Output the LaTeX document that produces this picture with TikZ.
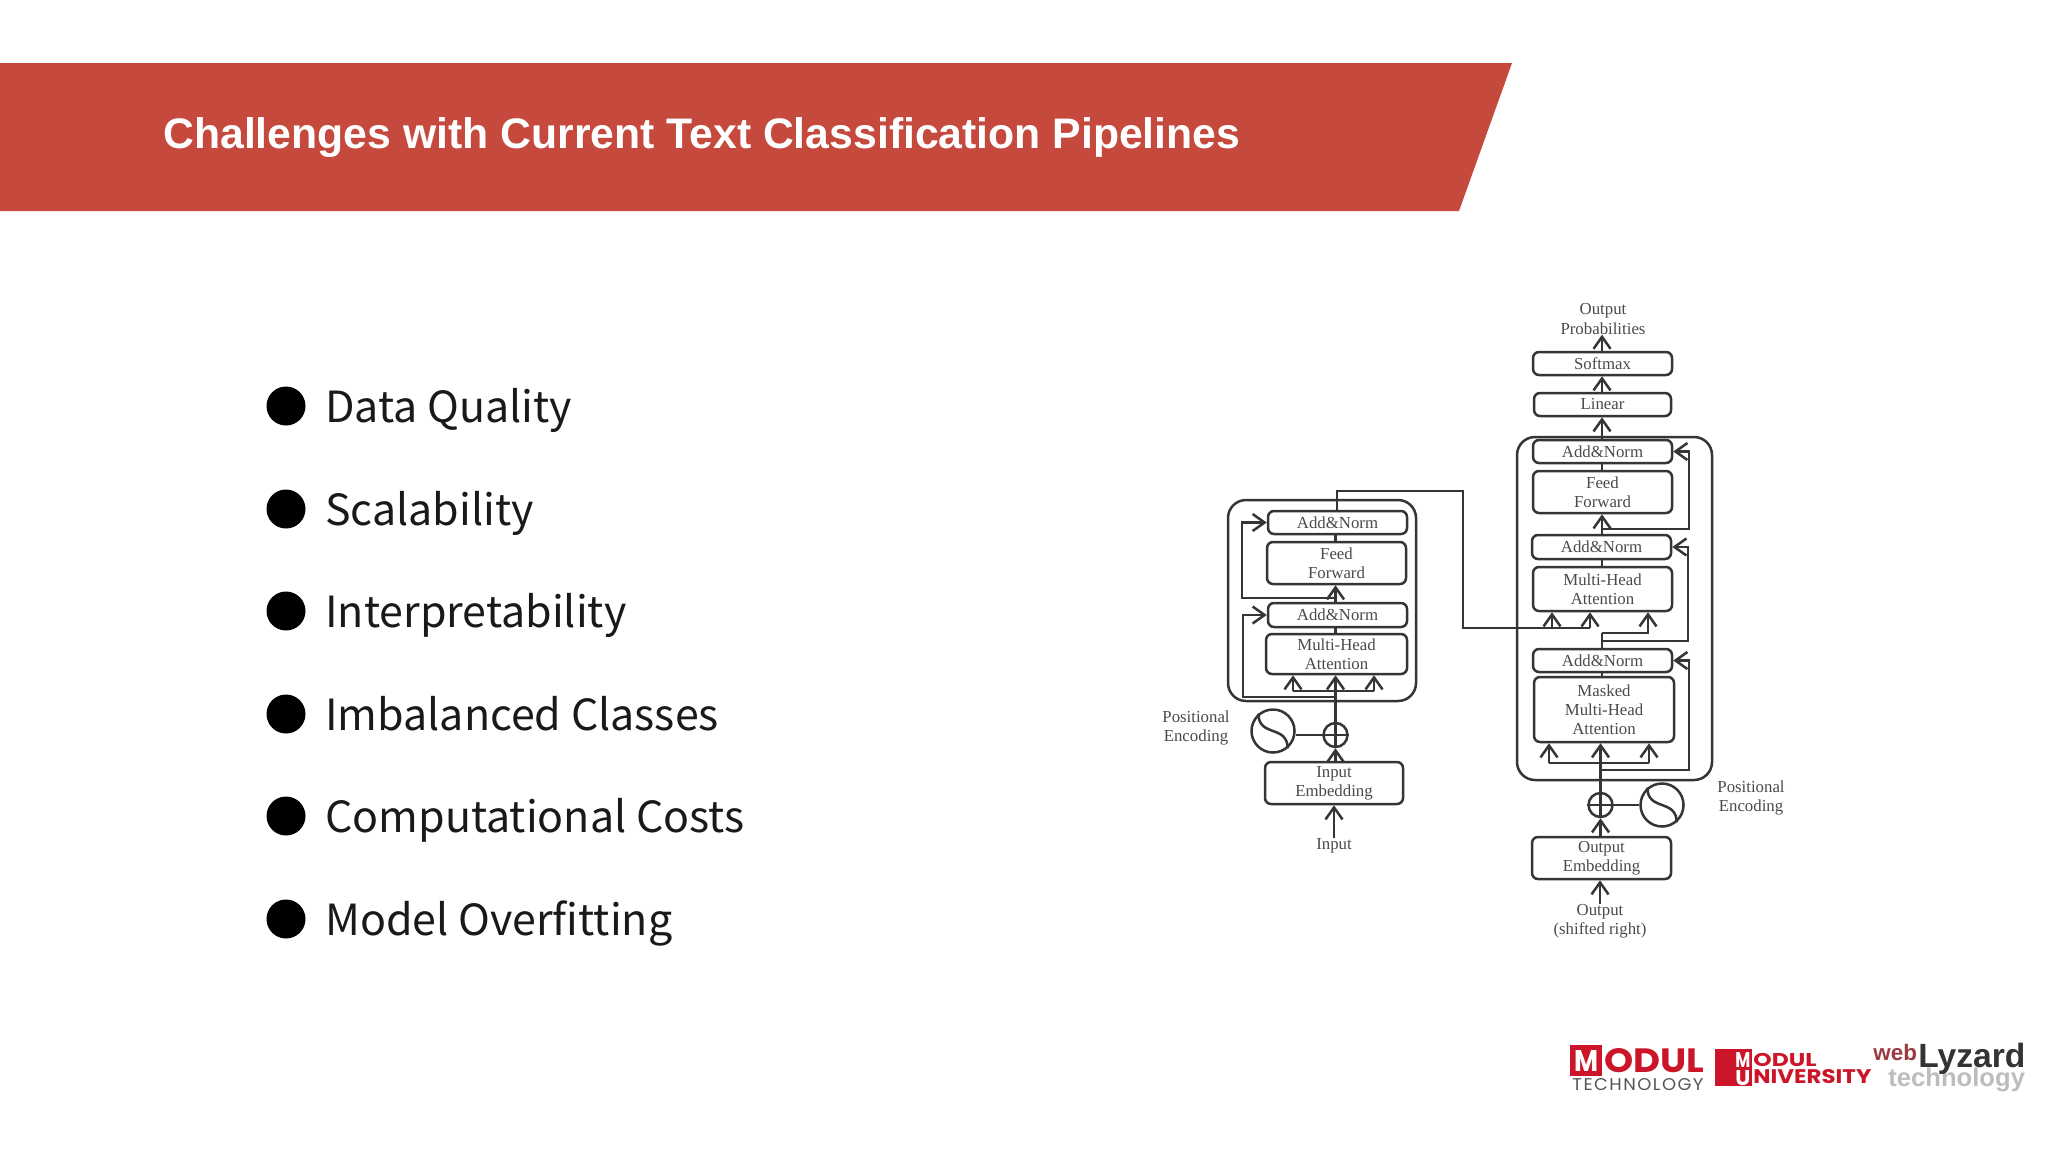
\documentclass[tikz,border=0pt]{standalone}
\usepackage{fontspec}
\usetikzlibrary{arrows.meta,fit,shapes.geometric}
\setmainfont{Liberation Serif}
\newfontfamily\titlefont{Liberation Sans}
\newfontfamily\bulfont{Noto Sans CJK SC}
\newfontfamily\logofont{Poppins}
\definecolor{hdr}{HTML}{C5493C}
\definecolor{ink}{HTML}{353535}
\definecolor{txt}{HTML}{4A4A4A}
\definecolor{logored}{HTML}{CC1528}
\definecolor{logogray}{HTML}{555555}
\definecolor{webred}{HTML}{9C3A40}
\definecolor{lyz}{HTML}{333333}
\definecolor{techgray}{HTML}{BDBDBD}
\tikzset{
  span/.style n args={4}{at={({(#1+#3)/2},{(#2+#4)/2})},anchor=center,minimum width={(#3-#1)*0.5pt},minimum height={(#4-#2)*0.5pt}},
  box/.style={draw=ink,line width=1.25pt,rounded corners=3pt,inner sep=0pt,align=center,text=txt,font=\fontsize{8.4}{9.6}\selectfont},
  outerbox/.style={draw=ink,line width=1.25pt,rounded corners=9pt,inner sep=0pt},
  wire/.style={draw=ink,line width=1.25pt},
  arr/.style={wire,-{Straight Barb[length=6pt,width=8.5pt,line width=1.25pt]}},
  lab/.style={align=center,text=txt,inner sep=0pt,font=\fontsize{8.4}{9.6}\selectfont},
  addc/.style={draw=ink,line width=1.25pt,circle,minimum size=12pt,inner sep=0pt},
  pec/.style={draw=ink,line width=1.25pt,circle,minimum size=21.5pt,inner sep=0pt},
  dot/.style={circle,fill=black,minimum size=19.5pt,inner sep=0pt},
  bul/.style={anchor=base west,inner sep=0pt,font=\bulfont\fontsize{21.46}{26}\selectfont,text=black!90},
  logo/.style={anchor=north west,inner sep=0pt},
  logob/.style={anchor=base west,inner sep=0pt},
}
\begin{document}
\begin{tikzpicture}[x=0.5pt,y=-0.5pt]
\useasboundingbox (0,0) rectangle (2048,1152);
\fill[white] (0,0) rectangle (2048,1152);
% header
\fill[hdr] (0,63) -- (1512,63) -- (1459,211) -- (0,211) -- cycle;
\node[anchor=base west,inner sep=0pt,text=white,font=\titlefont\bfseries\fontsize{21.36}{25}\selectfont] (title) at (163,148) {Challenges with Current Text Classification Pipelines};
% bullets
\foreach \nm/\yy/\tx in {a/406/Data Quality,b/509/Scalability,c/611/Interpretability,d/714/Imbalanced Classes,e/816/Computational Costs,f/919/Model Overfitting}{
  \node[dot] (dot\nm) at (286,\yy) {};
  \node[bul] (bul\nm) at (325,\yy+16) {\tx};
}
% encoder
\node[outerbox,span={1228}{500}{1416}{701}] (enc) {};
\node[box,span={1268}{511}{1407}{534}] (ean2) {Add\&Norm};
\node[box,span={1267}{542}{1406}{584}] (eff) {Feed\\Forward};
\node[box,span={1268}{603}{1407}{627}] (ean1) {Add\&Norm};
\node[box,span={1266}{634}{1407}{674}] (emh) {Multi-Head\\Attention};
\node[box,span={1265}{762}{1403}{804}] (eie) {Input\\Embedding};
\node[addc] (eadd) at (1335.5,735) {};
\node[pec] (epe) at (1273,731) {};
\node[lab] (epl) at (1196,728) {Positional\\Encoding};
\node[lab] (ein) at (1334,846) {Input};
\draw[wire] (eadd.west) -- (eadd.east) (eadd.south) -- (eadd.north);
\draw[wire] (epe.east |- eadd) -- (eadd.west);
\draw[wire] (epe.130) .. controls +(0,24) and +(0,-24) .. (epe.-50);
\draw[arr] (ein.north) -- (ein.north |- eie.south);
\draw[arr] (eadd.south |- eie.north) -- (eadd.south);
\coordinate (ej) at (1335.5,691);
\coordinate (ejl) at (1293,691);
\coordinate (ejr) at (1374,691);
\coordinate (es1) at (1335.5,697);
\coordinate (es1l) at (1243,697);
\draw[arr] (eadd.north) -- (ej |- emh.south);
\draw[wire] (ejl) -- (ejr);
\draw[arr] (ejl) -- (ejl |- emh.south);
\draw[arr] (ejr) -- (ejr |- emh.south);
\draw[arr] (es1) -- (es1l) -- (es1l |- ean1.west) -- (ean1.west);
\draw[wire] (ean1.south -| ej) -- (emh.north -| ej);
\draw[arr] (ean1.north -| ej) -- (eff.south -| ej);
\coordinate (es2) at (1335.5,598);
\coordinate (es2l) at (1242,598);
\draw[arr] (es2) -- (es2l) -- (es2l |- ean2.west) -- (ean2.west);
\draw[wire] (eff.north -| ej) -- (ean2.south -| ej);
% decoder
\node[outerbox,span={1517}{437}{1712}{780}] (dec) {};
\node[box,span={1533}{352}{1672}{375}] (dsm) {Softmax};
\node[box,span={1534}{393}{1671}{416}] (dli) {Linear};
\node[box,span={1533}{440}{1672}{463}] (dan3) {Add\&Norm};
\node[box,span={1533}{471}{1672}{513}] (dff) {Feed\\Forward};
\node[box,span={1532}{535}{1671}{559}] (dan2) {Add\&Norm};
\node[box,span={1533}{567}{1672}{611}] (dmh) {Multi-Head\\Attention};
\node[box,span={1533}{649}{1672}{672}] (dan1) {Add\&Norm};
\node[box,span={1534}{677}{1674}{742}] (dmm) {Masked\\Multi-Head\\Attention};
\node[box,span={1532}{837}{1671}{879}] (doe) {Output\\Embedding};
\node[addc] (dadd) at (1600.5,805) {};
\node[pec] (dpe) at (1662,805) {};
\node[lab] (dpl) at (1751,798) {Positional\\Encoding};
\node[lab] (dou) at (1600,921) {Output\\(shifted right)};
\node[lab] (dop) at (1603,319) {Output\\Probabilities};
\draw[wire] (dadd.west) -- (dadd.east) (dadd.south) -- (dadd.north);
\draw[wire] (dadd.east) -- (dpe.west);
\draw[wire] (dpe.130) .. controls +(0,24) and +(0,-24) .. (dpe.-50);
\draw[arr] (dou.north) -- (dou.north |- doe.south);
\draw[arr] (dadd.south |- doe.north) -- (dadd.south);
\coordinate (dj) at (1600.5,763);
\coordinate (djl) at (1549,763);
\coordinate (djr) at (1649,763);
\draw[arr] (dadd.north) -- (dj |- dmm.south);
\draw[wire] (djl) -- (djr);
\draw[arr] (djl) -- (djl |- dmm.south);
\draw[arr] (djr) -- (djr |- dmm.south);
\coordinate (ds1) at (1600.5,770);
\coordinate (ds1r) at (1689,770);
\draw[arr] (ds1) -- (ds1r) -- (ds1r |- dan1.east) -- (dan1.east);
\coordinate (dk) at (1602,633);
\coordinate (dkr) at (1648,633);
\draw[wire] (dmm.north -| dk) -- (dan1.south -| dk);
\draw[wire] (dan1.north -| dk) -- (dk);
\draw[arr] (dk) -- (dkr) -- (dkr |- dmh.south);
\coordinate (ds2) at (1602,641);
\coordinate (ds2r) at (1688,641);
\draw[arr] (ds2) -- (ds2r) -- (ds2r |- dan2.east) -- (dan2.east);
\coordinate (dcr) at (1463,628);
\coordinate (dc1) at (1552,628);
\coordinate (dc2) at (1590,628);
\coordinate (dct) at (1463,491);
\coordinate (ect) at (1337,491);
\draw[wire] (ean2.north -| ect) -- (ect) -- (dct) -- (dcr) -- (dc2);
\draw[arr] (dc1) -- (dc1 |- dmh.south);
\draw[arr] (dc2) -- (dc2 |- dmh.south);
\draw[wire] (dmh.north -| dk) -- (dan2.south -| dk);
\draw[arr] (dan2.north -| dk) -- (dff.south -| dk);
\coordinate (ds3) at (1602,529);
\coordinate (ds3r) at (1689,529);
\draw[arr] (ds3) -- (ds3r) -- (ds3r |- dan3.east) -- (dan3.east);
\draw[wire] (dff.north -| dk) -- (dan3.south -| dk);
\draw[arr] (dan3.north -| dk) -- (dli.south -| dk);
\draw[arr] (dli.north -| dk) -- (dsm.south -| dk);
\draw[arr] (dsm.north -| dk) -- (dop.south -| dk);
% logos
\fill[logored] (1570,1045) rectangle (1602,1076);
\node[logo,text=white] (m1) at (1574,1050) {\resizebox{12pt}{10.5pt}{\logofont\bfseries M}};
\node[logo,text=logored] (m2) at (1604,1048) {\resizebox{50pt}{12pt}{\logofont\bfseries ODUL}};
\node[logo,text=logogray] (m3) at (1572,1078) {\resizebox{65.5pt}{6pt}{\logofont\fontspec{Poppins}[LetterSpace=8]TECHNOLOGY}};
\fill[logored] (1715,1049) rectangle (1752,1086);
\node[logo,text=white] (u1) at (1735,1052) {\resizebox{7.5pt}{7.5pt}{\logofont\bfseries M}};
\node[logo,text=white] (u2) at (1735,1070) {\resizebox{7.5pt}{7.5pt}{\logofont\bfseries U}};
\node[logo,text=logored] (u3) at (1753,1053) {\resizebox{31.5pt}{6.6pt}{\logofont\bfseries ODUL}};
\node[logo,text=logored] (u4) at (1753,1069) {\resizebox{59pt}{7pt}{\logofont\bfseries NIVERSITY}};
\node[logob,text=techgray,font=\titlefont\bfseries\fontsize{12.8}{14}\selectfont] (w3) at (1888,1086) {technology};
\node[logob,text=webred,font=\titlefont\bfseries\fontsize{11.2}{12}\selectfont] (w1) at (1873,1060) {web};
\node[logob,text=lyz,font=\titlefont\bfseries\fontsize{16.8}{18}\selectfont] (w2) at (1918,1067) {Lyzard};
\end{tikzpicture}
\end{document}
